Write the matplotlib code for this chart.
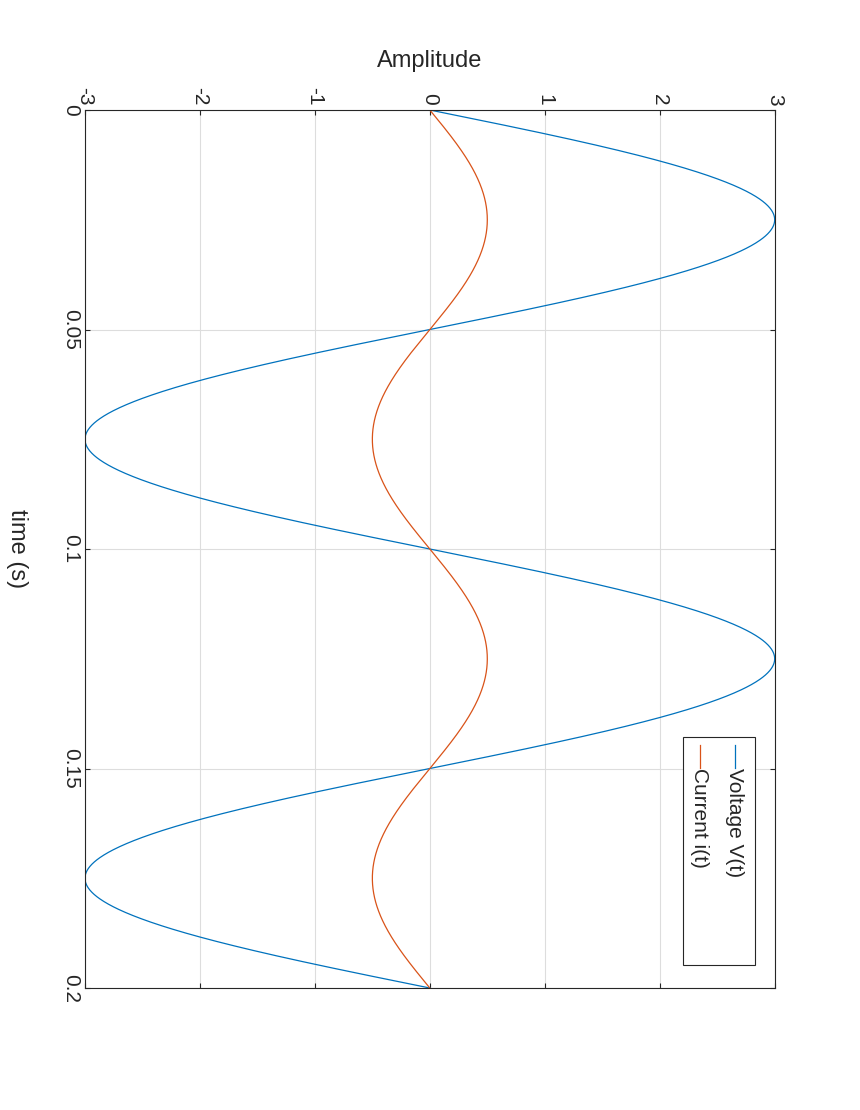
import numpy as np
import matplotlib.pyplot as plt
from matplotlib.patches import Rectangle

plt.rcParams['font.family'] = ['Liberation Sans', 'DejaVu Sans']

# signal parameters
freq = 10.0          # Hz (period 0.1 s)
v_amp = 3.0
i_amp = 0.5
t = np.linspace(0, 0.2, 2001)
voltage = v_amp * np.sin(2 * np.pi * freq * t)
current = i_amp * np.sin(2 * np.pi * freq * t)

amp_ticks = [-3, -2, -1, 0, 1, 2, 3]
time_ticks = [0, 0.05, 0.1, 0.15, 0.2]
time_labels = ['0', '0.05', '0.1', '0.15', '0.2']

blue = '#0072BD'
orange = '#D95319'

fig = plt.figure(figsize=(8.6, 11.1), dpi=100)
ax = fig.add_axes([0.0988, 0.1099, 0.802, 0.791])
ax.plot(voltage, t, color=blue, lw=0.9)
ax.plot(current, t, color=orange, lw=0.9)
ax.set_xlim(-3, 3)
ax.set_ylim(0.2, 0)
ax.xaxis.tick_top()
ax.xaxis.set_label_position('top')
ax.set_xticks(amp_ticks)
ax.set_xticklabels([str(a) for a in amp_ticks])
ax.set_yticks(time_ticks)
ax.set_yticklabels(time_labels)
ax.tick_params(axis='both', direction='in', labelsize=15, colors='#262626',
               top=True, bottom=True, left=True, right=True)
ax.tick_params(axis='x', labelrotation=-90)
ax.tick_params(axis='y', labelrotation=-90)
for lab in ax.get_yticklabels():
    lab.set_verticalalignment('center')
ax.grid(True, color='#dddddd', lw=0.8)
for s in ax.spines.values():
    s.set_color('#262626')
    s.set_linewidth(0.8)
ax.set_xlabel('Amplitude', fontsize=17, color='#262626', labelpad=14)
ax.set_ylabel('time (s)', fontsize=17, color='#262626', rotation=-90, labelpad=40)

# rotated legend
ax.add_patch(Rectangle((0.867, 0.026), 0.104, 0.260, transform=ax.transAxes,
                       facecolor='white', edgecolor='#262626', lw=0.8, zorder=5))
for xpos, col, name in [(0.942, blue, 'Voltage V(t)'), (0.891, orange, 'Current i(t)')]:
    ax.plot([xpos, xpos], [0.277, 0.251], color=col, lw=0.9, transform=ax.transAxes, zorder=6)
    ax.text(xpos, 0.251, name, rotation=-90, transform=ax.transAxes, fontsize=15,
            va='top', ha='center', color='#262626', zorder=6)

fig.savefig('out.png', dpi=100)
